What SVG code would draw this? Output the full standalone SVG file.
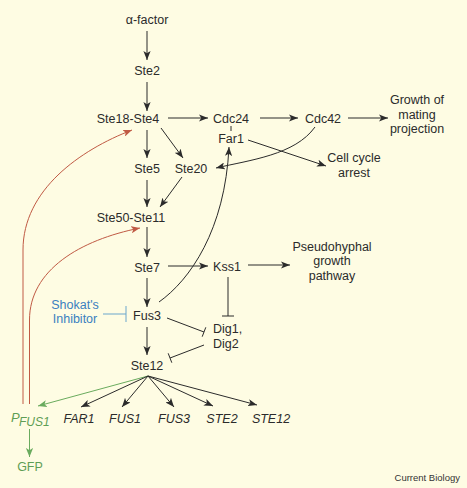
<svg xmlns="http://www.w3.org/2000/svg" width="467" height="488" viewBox="0 0 467 488">
<defs>
<style>
.t{font-family:"Liberation Sans",Arial,Helvetica,sans-serif;font-size:12.5px;fill:#2b2b2b;text-anchor:middle}
.l{text-anchor:start}
.i{font-style:italic}
.g{fill:#5e9e55}
.b{fill:#3a80c0}
.k{fill:none;stroke:#2b2b2b;stroke-width:1}
.r{fill:none;stroke:#c05a44;stroke-width:1}
.gr{fill:none;stroke:#6aab5e;stroke-width:1}
.bl{fill:none;stroke:#6aa6cc;stroke-width:1}
</style>
<marker id="ak" viewBox="0 0 10 8" refX="10" refY="4" markerWidth="9" markerHeight="7.2" markerUnits="userSpaceOnUse" orient="auto"><path d="M0,0 L10,4 L0,8 L2.5,4 z" fill="#2b2b2b"/></marker>
<marker id="ar" viewBox="0 0 10 8" refX="10" refY="4" markerWidth="9" markerHeight="7.2" markerUnits="userSpaceOnUse" orient="auto"><path d="M0,0 L10,4 L0,8 L2.5,4 z" fill="#c05a44"/></marker>
<marker id="ag" viewBox="0 0 10 8" refX="10" refY="4" markerWidth="9" markerHeight="7.2" markerUnits="userSpaceOnUse" orient="auto"><path d="M0,0 L10,4 L0,8 L2.5,4 z" fill="#6aab5e"/></marker>
</defs>
<rect width="467" height="488" fill="#fefce3"/>

<g id="connectors">
<line class="k" x1="147" y1="31" x2="147" y2="60" marker-end="url(#ak)"/>
<line class="k" x1="147" y1="82" x2="147" y2="111" marker-end="url(#ak)"/>
<line class="k" x1="168" y1="118" x2="208" y2="118" marker-end="url(#ak)"/>
<line class="k" x1="260" y1="118" x2="298" y2="118" marker-end="url(#ak)"/>
<line class="k" x1="348" y1="118" x2="388" y2="118" marker-end="url(#ak)"/>
<line class="k" x1="231" y1="126" x2="231" y2="131"/>
<line class="k" x1="248" y1="140" x2="326" y2="166" marker-end="url(#ak)"/>
<path class="k" d="M315,127 C295,155 250,160 216,168" marker-end="url(#ak)"/>
<line class="k" x1="147" y1="130" x2="147" y2="158" marker-end="url(#ak)"/>
<line class="k" x1="161" y1="128" x2="183" y2="158" marker-end="url(#ak)"/>
<line class="k" x1="147" y1="180" x2="147" y2="207" marker-end="url(#ak)"/>
<line class="k" x1="182" y1="177" x2="160" y2="207" marker-end="url(#ak)"/>
<line class="k" x1="147" y1="227" x2="147" y2="257" marker-end="url(#ak)"/>
<line class="k" x1="168" y1="266" x2="208" y2="266" marker-end="url(#ak)"/>
<line class="k" x1="248" y1="265" x2="290" y2="265" marker-end="url(#ak)"/>
<line class="k" x1="147" y1="278" x2="147" y2="307" marker-end="url(#ak)"/>
<path class="k" d="M159,302 C190,280 225,230 229,147" marker-end="url(#ak)"/>
<line class="k" x1="228" y1="277" x2="228" y2="316"/>
<line class="k" x1="222" y1="316" x2="234" y2="316"/>
<line class="bl" x1="103" y1="314" x2="126" y2="314"/>
<line class="bl" x1="126" y1="306" x2="126" y2="322"/>
<line class="k" x1="167" y1="318" x2="204" y2="332"/>
<line class="k" x1="202.2" y1="336.7" x2="205.8" y2="327.3"/>
<line class="k" x1="204" y1="345" x2="170" y2="358"/>
<line class="k" x1="171.8" y1="362.7" x2="168.2" y2="353.3"/>
<line class="k" x1="147" y1="327" x2="147" y2="355" marker-end="url(#ak)"/>
<line class="gr" x1="148" y1="376" x2="38" y2="406" marker-end="url(#ag)"/>
<line class="k" x1="148" y1="376" x2="81" y2="407" marker-end="url(#ak)"/>
<line class="k" x1="148" y1="376" x2="122" y2="407" marker-end="url(#ak)"/>
<line class="k" x1="148" y1="376" x2="174" y2="407" marker-end="url(#ak)"/>
<line class="k" x1="148" y1="376" x2="213" y2="406" marker-end="url(#ak)"/>
<line class="k" x1="148" y1="376" x2="257" y2="405" marker-end="url(#ak)"/>
<line class="gr" x1="29.5" y1="429" x2="29.5" y2="457" marker-end="url(#ag)"/>
<path class="r" d="M23,404 V250 C23,190 80,150 132,130" marker-end="url(#ar)"/>
<path class="r" d="M29.5,404 V320 C29.5,270 80,240 140,228" marker-end="url(#ar)"/>
</g>

<g id="alpha-factor"><text class="t" x="147" y="24">α-factor</text></g>
<g id="ste2"><text class="t" x="147" y="75">Ste2</text></g>
<g id="ste18-ste4"><text class="t" x="128" y="123">Ste18-Ste4</text></g>
<g id="cdc24"><text class="t" x="231" y="123">Cdc24</text></g>
<g id="far1"><text class="t" x="231" y="143">Far1</text></g>
<g id="cdc42"><text class="t" x="323" y="123">Cdc42</text></g>
<g id="growth"><text class="t" x="417" y="104">Growth of</text><text class="t" x="417" y="118.5">mating</text><text class="t" x="417" y="133">projection</text></g>
<g id="cell-cycle-arrest"><text class="t" x="354" y="162">Cell cycle</text><text class="t" x="354" y="177">arrest</text></g>
<g id="ste5"><text class="t" x="147" y="173">Ste5</text></g>
<g id="ste20"><text class="t" x="191" y="173">Ste20</text></g>
<g id="ste50-ste11"><text class="t" x="131" y="222">Ste50-Ste11</text></g>
<g id="ste7"><text class="t" x="147" y="272">Ste7</text></g>
<g id="kss1"><text class="t" x="227" y="271">Kss1</text></g>
<g id="pseudohyphal"><text class="t" x="332" y="251">Pseudohyphal</text><text class="t" x="332" y="265">growth</text><text class="t" x="332" y="279.5">pathway</text></g>
<g id="shokat"><text class="t b" x="75" y="308.5">Shokat's</text><text class="t b" x="75" y="323">Inhibitor</text></g>
<g id="fus3"><text class="t" x="147" y="320">Fus3</text></g>
<g id="dig"><text class="t l" x="213" y="333">Dig1,</text><text class="t l" x="213" y="348">Dig2</text></g>
<g id="ste12"><text class="t" x="147" y="370">Ste12</text></g>
<g id="pfus1"><text class="t l i g" x="11" y="422" style="font-size:13px">P</text><text class="t l i g" x="19" y="426" style="font-size:12px">FUS1</text></g>
<g id="gfp"><text class="t g" x="30" y="471">GFP</text></g>
<g id="far1-gene"><text class="t i" x="79" y="423">FAR1</text></g>
<g id="fus1-gene"><text class="t i" x="125" y="423">FUS1</text></g>
<g id="fus3-gene"><text class="t i" x="174" y="423">FUS3</text></g>
<g id="ste2-gene"><text class="t i" x="222" y="423">STE2</text></g>
<g id="ste12-gene"><text class="t i" x="271" y="423">STE12</text></g>
<text class="t" x="460" y="481" style="font-size:9.5px;text-anchor:end;fill:#333">Current Biology</text>
</svg>
